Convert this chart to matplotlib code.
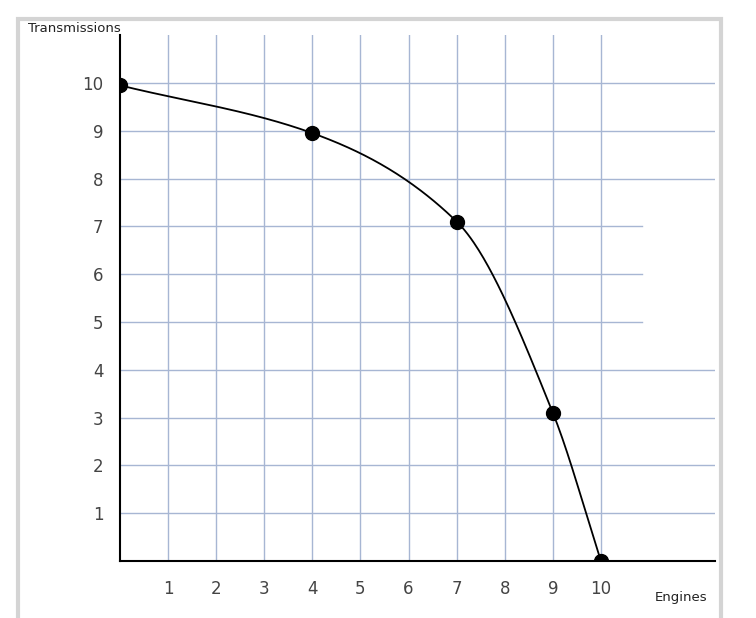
import numpy as np
import matplotlib
matplotlib.use("Agg")
import matplotlib.pyplot as plt
from matplotlib.patches import Rectangle

# Production possibilities: engines vs transmissions
engines = [0, 4, 7, 9, 10]
transmissions = [9.95, 8.95, 7.1, 3.1, 0]
x_ticks = list(range(1, 11))
y_ticks = list(range(1, 11))
short_rows = [5, 6, 7]


def smooth_curve(xs, ys, n=300):
    """Monotone cubic (Fritsch-Carlson) curve through the points."""
    xs = np.asarray(xs, float)
    ys = np.asarray(ys, float)
    h = np.diff(xs)
    d = np.diff(ys) / h
    m = np.zeros_like(xs)
    m[0], m[-1] = d[0], d[-1]
    for i in range(1, len(xs) - 1):
        if d[i - 1] * d[i] > 0:
            w1, w2 = 2 * h[i] + h[i - 1], h[i] + 2 * h[i - 1]
            m[i] = (w1 + w2) / (w1 / d[i - 1] + w2 / d[i])
    xx = np.linspace(xs[0], xs[-1], n)
    idx = np.clip(np.searchsorted(xs, xx) - 1, 0, len(xs) - 2)
    t = (xx - xs[idx]) / h[idx]
    h00 = 2 * t**3 - 3 * t**2 + 1
    h10 = t**3 - 2 * t**2 + t
    h01 = -2 * t**3 + 3 * t**2
    h11 = t**3 - t**2
    yy = (h00 * ys[idx] + h10 * h[idx] * m[idx]
          + h01 * ys[idx + 1] + h11 * h[idx] * m[idx + 1])
    return xx, yy


fig = plt.figure(figsize=(7.56, 6.18), dpi=100)
fig.patches.append(Rectangle((0.024, -0.05), 0.93, 1.02, transform=fig.transFigure,
                             fill=False, edgecolor="#d4d4d4", linewidth=3))

ax = fig.add_axes([0.1587, 0.0922, 0.787, 0.851])
xmax, ymax = 12.37, 11.0
ax.set_xlim(0, xmax)
ax.set_ylim(0, ymax)

grid_c = "#a7b6d3"
for x in x_ticks:
    ax.plot([x, x], [0, ymax], color=grid_c, lw=1, zorder=1)
for y in y_ticks:
    xr = 10.85 if y in short_rows else xmax
    ax.plot([0, xr], [y, y], color=grid_c, lw=1, zorder=1)

xx, yy = smooth_curve(engines, transmissions)
ax.plot(xx, yy, color="black", lw=1.3, zorder=3)
ax.plot(engines, transmissions, "o", color="black", ms=10, zorder=4)

for s in ["top", "right"]:
    ax.spines[s].set_visible(False)
ax.spines["left"].set_linewidth(1.5)
ax.spines["bottom"].set_linewidth(1.5)
ax.set_xticks(x_ticks)
ax.set_yticks(y_ticks)
ax.tick_params(length=0, labelsize=12, colors="#444444", pad=12)
ax.tick_params(axis="x", pad=14)

fig.text(0.037, 0.948, "Transmissions", fontsize=9.5, color="#222222")
fig.text(0.866, 0.028, "Engines", fontsize=9.5, color="#222222")

fig.savefig("out.png", dpi=100)
